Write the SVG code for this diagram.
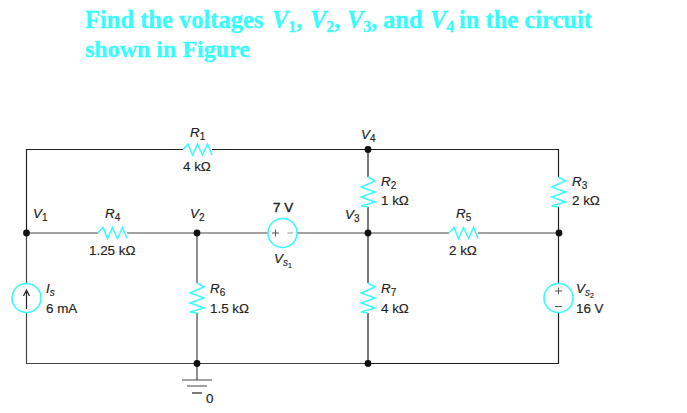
<svg xmlns="http://www.w3.org/2000/svg" width="687" height="413" viewBox="0 0 687 413">
<style>
.t{font-family:"Liberation Serif",serif;font-weight:bold;font-size:24.5px;fill:#38fcfc;stroke:#38fcfc;stroke-width:.3}
.l{font-family:"Liberation Sans",Arial,sans-serif;font-size:13.400px;fill:#222;stroke:#222;stroke-width:.15}
.i{font-style:italic}
.s{font-size:10px;font-style:normal}
.w{fill:none;stroke:#222;stroke-width:1.200}
.g{fill:none;stroke:#444;stroke-width:1.200}
.r{fill:none;stroke:#38fcfc;stroke-width:1.500}
.c{fill:#fff;stroke:#38fcfc;stroke-width:1.600}
.d{fill:#111}
</style>
<rect width="687" height="413" fill="#fff"/>
<g id="title">
<text class="t" y="28"><tspan x="85">Find the voltages</tspan><tspan x="272" font-style="italic">V</tspan><tspan font-size="16" dy="4">1</tspan><tspan dy="-4">,</tspan><tspan x="310" font-style="italic">V</tspan><tspan font-size="16" dy="4">2</tspan><tspan dy="-4">,</tspan><tspan x="347" font-style="italic">V</tspan><tspan font-size="16" dy="4">3</tspan><tspan dy="-4">,</tspan><tspan x="383">and</tspan><tspan x="430" font-style="italic">V</tspan><tspan font-size="16" dy="4">4</tspan><tspan x="459" dy="-4">in the circuit</tspan></text>
<text class="t" x="85" y="57" font-size="24" style="font-size:24px">shown in Figure</text>
</g>
<g id="connectors">
<path class="w" d="M26.500 233V149.500H183M212 149.500H558.500V177M558.500 207V283M558.500 313V363.500H368M368 149.500V177M368 207V283M368 313V363.500"/>
<path class="g" d="M368 363.500H26.500V313M26.500 283V233H98M127 233H197H268M297 233H449M478 233H558.500M197 233V283M197 313V380"/>
<path class="g" d="M182 380H212M187 386H207"/>
</g>
<g id="R1"><path class="r" d="M183 149.500L188 144L192.500 155L197.500 144L202.500 155L207.500 144L212 155"/><text class="l i" x="190" y="137">R<tspan class="s" dy="3">1</tspan></text><text class="l" x="183" y="171">4 kΩ</text></g>
<g id="R2"><path class="r" d="M368 177L375 181L361 187L375 192L361 197L375 202L361 206L368 207"/><text class="l i" x="381" y="186">R<tspan class="s" dy="3">2</tspan></text><text class="l" x="381" y="205">1 kΩ</text></g>
<g id="R3"><path class="r" d="M558.500 177L565.500 181L551.500 187L565.500 192L551.500 197L565.500 202L551.500 206L558.500 207"/><text class="l i" x="572" y="186">R<tspan class="s" dy="3">3</tspan></text><text class="l" x="572" y="205">2 kΩ</text></g>
<g id="R4"><path class="r" d="M98 233L103 227.500L107.500 238.500L112.500 227.500L117.500 238.500L122.500 227.500L127 238.500"/><text class="l i" x="105" y="218">R<tspan class="s" dy="3">4</tspan></text><text class="l" x="89" y="255">1.25 kΩ</text></g>
<g id="R5"><path class="r" d="M449 233L454 227.500L458.500 238.500L463.500 227.500L468.500 238.500L473.500 227.500L478 238.500"/><text class="l i" x="456" y="218">R<tspan class="s" dy="3">5</tspan></text><text class="l" x="449" y="255">2 kΩ</text></g>
<g id="R6"><path class="r" d="M197 283L204 287L190 293L204 298L190 303L204 308L190 312L197 313"/><text class="l i" x="210" y="293">R<tspan class="s" dy="3">6</tspan></text><text class="l" x="210" y="313">1.5 kΩ</text></g>
<g id="R7"><path class="r" d="M368 283L375 287L361 293L375 298L361 303L375 308L361 312L368 313"/><text class="l i" x="381" y="293">R<tspan class="s" dy="3">7</tspan></text><text class="l" x="381" y="313">4 kΩ</text></g>
<g id="Is"><circle class="c" cx="26.500" cy="298" r="14.500"/><path class="w" d="M26.500 309V292M23.500 296L26.500 290L29.500 296"/><text class="l i" x="46" y="293">I<tspan class="s i" dy="3" style="font-style:italic">s</tspan></text><text class="l" x="46" y="313">6 mA</text></g>
<g id="Vs1"><circle class="c" cx="282.500" cy="233" r="14.500"/><path d="M272 233H279M275.500 229.500V236.500" stroke="#555" stroke-width="1" fill="none"/><path d="M287.500 233H293" stroke="#999" stroke-width="1" fill="none"/><text class="l" x="273" y="212" style="stroke-width:.4">7 V</text><text class="l i" x="274" y="263">V<tspan class="s" dy="3" style="font-style:italic">s</tspan><tspan font-size="7" dy="2" font-style="normal">1</tspan></text></g>
<g id="Vs2"><circle class="c" cx="558.500" cy="298" r="14.500"/><path d="M555 291H562M558.500 287.500V294.500M555 306.500H562" stroke="#555" stroke-width="1" fill="none"/><text class="l i" x="576" y="293">V<tspan class="s" dy="3" style="font-style:italic">s</tspan><tspan font-size="7" dy="2" font-style="normal">2</tspan></text><text class="l" x="576" y="313">16 V</text></g>
<g id="V1"><circle class="d" cx="26.500" cy="233" r="3.400"/><text class="l i" x="33" y="218">V<tspan class="s" dy="3">1</tspan></text></g>
<g id="V2"><circle class="d" cx="197" cy="233" r="3.400"/><text class="l i" x="190" y="218">V<tspan class="s" dy="3">2</tspan></text></g>
<g id="V3"><circle class="d" cx="368" cy="233" r="3.400"/><text class="l i" x="345" y="219">V<tspan class="s" dy="3">3</tspan></text></g>
<g id="V4"><circle class="d" cx="368" cy="149.500" r="3.400"/><text class="l i" x="361" y="139">V<tspan class="s" dy="3">4</tspan></text></g>
<g id="nodeR"><circle class="d" cx="559" cy="233" r="3.400"/></g>
<g id="nodeB1"><circle class="d" cx="197" cy="363.500" r="3.400"/></g>
<g id="nodeB2"><circle class="d" cx="368" cy="363.500" r="3.400"/></g>
<g id="ground0"><path class="w" d="M192 393H202"/><text class="l" x="206" y="403">0</text></g>
</svg>
